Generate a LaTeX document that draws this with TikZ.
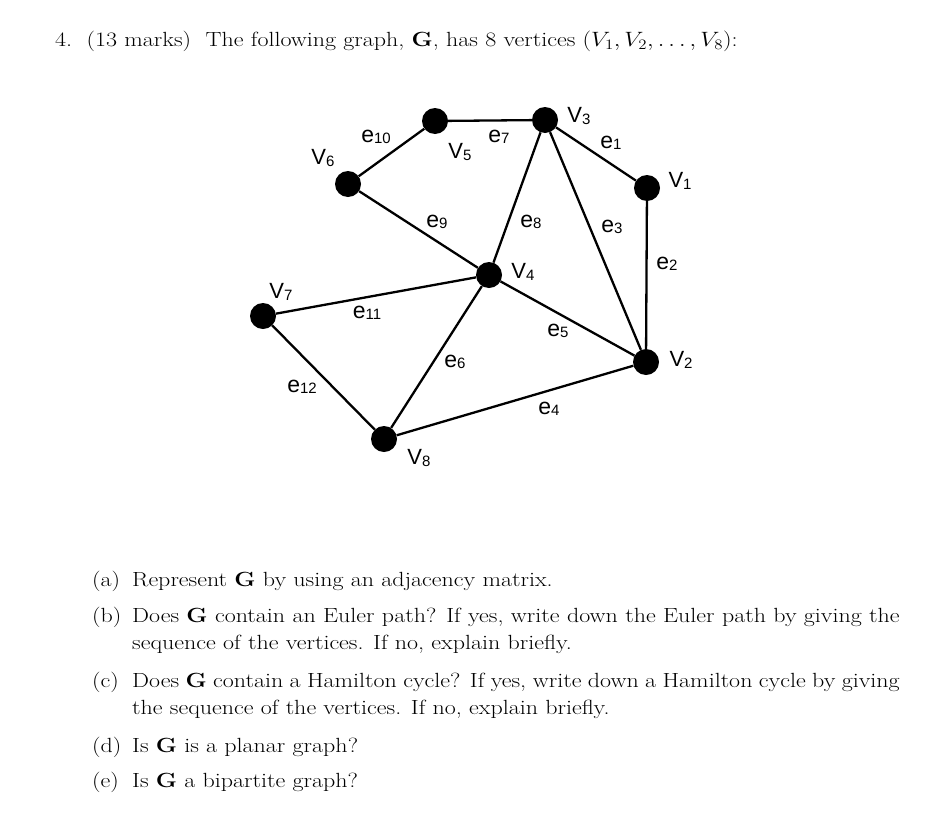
\documentclass[tikz,border=0pt]{standalone}
\usepackage{fontspec}
\usepackage{graphicx}
\newfontfamily\lab{Liberation Sans}
\newcommand{\vl}[2]{{\lab\fontsize{22}{22}\selectfont #1\raisebox{-2.5pt}{\fontsize{15}{15}\selectfont #2}}}
\newcommand{\el}[2]{{\lab\fontsize{23}{23}\selectfont #1\raisebox{-1pt}{\fontsize{15}{15}\selectfont #2}}}
\newcommand{\sx}[1]{\scalebox{1.17}[1]{#1}}
\begin{document}
\begin{tikzpicture}[x=1pt,y=-1pt,
  vtx/.style={circle,fill=black,inner sep=0pt,minimum size=26pt},
  edge/.style={line width=2.3pt},
  lbl/.style={inner sep=0pt,anchor=center},
  txt/.style={inner sep=0pt,anchor=base west,font=\fontsize{20.5}{27}\selectfont}]
\useasboundingbox (0,0) rectangle (950,814);
\fill[white] (0,0) rectangle (950,814);
% vertices
\node[vtx] (v1) at (647,188) {};
\node[vtx] (v2) at (646,362) {};
\node[vtx] (v3) at (545,120) {};
\node[vtx] (v4) at (489,275) {};
\node[vtx] (v5) at (435,121) {};
\node[vtx] (v6) at (348,184) {};
\node[vtx] (v7) at (263,316) {};
\node[vtx] (v8) at (384,439) {};
% edges
\draw[edge] (v3) -- (v1);
\draw[edge] (v1) -- (v2);
\draw[edge] (v3) -- (v2);
\draw[edge] (v8) -- (v2);
\draw[edge] (v4) -- (v2);
\draw[edge] (v8) -- (v4);
\draw[edge] (v5) -- (v3);
\draw[edge] (v4) -- (v3);
\draw[edge] (v6) -- (v4);
\draw[edge] (v6) -- (v5);
\draw[edge] (v7) -- (v4);
\draw[edge] (v7) -- (v8);
% vertex labels
\node[lbl] (l1) at (680,181) {\vl{V}{1}};
\node[lbl] (l2) at (681,360) {\vl{V}{2}};
\node[lbl] (l3) at (579,116) {\vl{V}{3}};
\node[lbl] (l4) at (523,272) {\vl{V}{4}};
\node[lbl] (l5) at (460,152) {\vl{V}{5}};
\node[lbl] (l6) at (323,158) {\vl{V}{6}};
\node[lbl] (l7) at (281,292) {\vl{V}{7}};
\node[lbl] (l8) at (419,458) {\vl{V}{8}};
% edge labels
\node[lbl] (e1) at (611,143) {\el{e}{1}};
\node[lbl] (e2) at (667,264) {\el{e}{2}};
\node[lbl] (e3) at (612,227) {\el{e}{3}};
\node[lbl] (e4) at (549,409) {\el{e}{4}};
\node[lbl] (e5) at (558,331) {\el{e}{5}};
\node[lbl] (e6) at (455,362) {\el{e}{6}};
\node[lbl] (e7) at (499,137) {\el{e}{7}};
\node[lbl] (e8) at (531,222) {\el{e}{8}};
\node[lbl] (e9) at (437,222) {\el{e}{9}};
\node[lbl] (e10) at (376,137) {\el{e}{10}};
\node[lbl] (e11) at (367,313) {\el{e}{11}};
\node[lbl] (e12) at (302,387) {\el{e}{12}};
% text
\node[txt] (title) at (55,46) {\sx{4.\ \ (13 marks)\ \ The following graph, \textbf{G}, has 8 vertices $(V_1, V_2, \ldots, V_8)$:}};
\node[txt] (qa) at (92,586) {\sx{(a)}};
\node[txt] (ta) at (132,586) {\sx{Represent \textbf{G} by using an adjacency matrix.}};
\node[txt] (qb) at (92,622) {\sx{(b)}};
\node[txt] (tb) at (132,622) {\sx{\makebox[656pt][s]{Does \textbf{G} contain an Euler path? If yes, write down the Euler path by giving the}}};
\node[txt] (tb2) at (132,649) {\sx{sequence of the vertices. If no, explain briefly.}};
\node[txt] (qc) at (92,687) {\sx{(c)}};
\node[txt] (tc) at (132,687) {\sx{\makebox[656pt][s]{Does \textbf{G} contain a Hamilton cycle? If yes, write down a Hamilton cycle by giving}}};
\node[txt] (tc2) at (132,714) {\sx{the sequence of the vertices. If no, explain briefly.}};
\node[txt] (qd) at (92,752) {\sx{(d)}};
\node[txt] (td) at (132,752) {\sx{Is \textbf{G} is a planar graph?}};
\node[txt] (qe) at (92,787) {\sx{(e)}};
\node[txt] (te) at (132,787) {\sx{Is \textbf{G} a bipartite graph?}};
\end{tikzpicture}
\end{document}
